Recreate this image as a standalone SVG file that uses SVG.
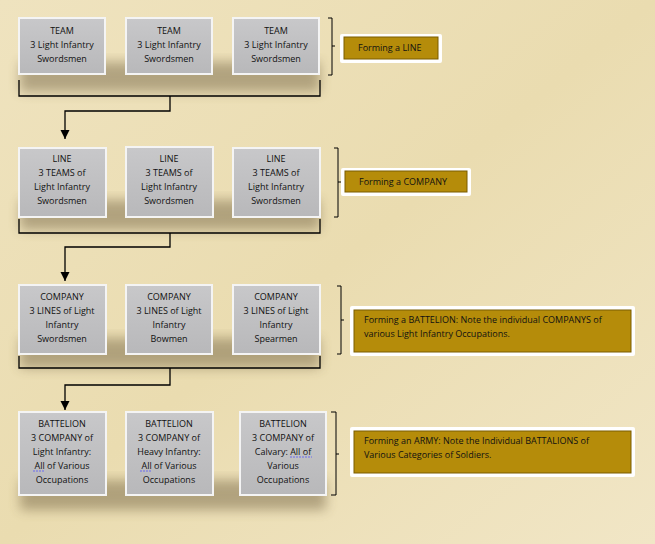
<svg xmlns="http://www.w3.org/2000/svg" width="655" height="544" viewBox="0 0 655 544">
<defs>
<linearGradient id="bg" x1="0" y1="0" x2="1" y2="1"><stop offset="0" stop-color="#efe3bf"/><stop offset="0.5" stop-color="#eadcb0"/><stop offset="1" stop-color="#f1e6c6"/></linearGradient>
<linearGradient id="bx" x1="0" y1="0" x2="0" y2="1"><stop offset="0" stop-color="#c8c8ca"/><stop offset="1" stop-color="#b8b8ba"/></linearGradient>
<filter id="sh" x="-30%" y="-30%" width="160%" height="180%"><feGaussianBlur stdDeviation="6"/></filter>
<marker id="ah" viewBox="0 0 10 10" refX="10" refY="5" markerWidth="7" markerHeight="7" orient="auto"><path d="M0,0 L10,5 L0,10 Z" fill="#000"/></marker>
<style>
.box{fill:url(#bx);stroke:#f4f4f4;stroke-width:2}
.shd{fill:#6b5a3a;opacity:0.45;filter:url(#sh)}
text{font-family:"Open Sans","Liberation Sans",sans-serif;font-size:9px;fill:#111;text-anchor:middle}
.lab{fill:#b58c0a;stroke:#7a5c00;stroke-width:1}
.labo{fill:#fff}
.lt{text-anchor:start;font-size:9px}
.con{fill:none;stroke:#000;stroke-width:1.3}
.br{fill:none;stroke:#000;stroke-width:1}
.ul{stroke:#6a6af0;stroke-width:1;stroke-dasharray:2 1}
</style>
</defs>
<rect width="655" height="544" fill="url(#bg)"/>
<g id="shadows">
<rect class="shd" x="20" y="62" width="300" height="30"/>
<rect class="shd" x="20" y="200" width="300" height="30"/>
<rect class="shd" x="20" y="338" width="300" height="30"/>
<rect class="shd" x="20" y="480" width="306" height="30"/>
</g>
<g id="connectors">
<path class="con" d="M19,80 V96 H320 V80 M170,96 V111 H65 V139" marker-end="url(#ah)"/>
<path class="con" d="M19,219 V233 H320 V219 M170,233 V247 H65 V281" marker-end="url(#ah)"/>
<path class="con" d="M19,356 V368 H320 V356 M170,368 V385 H65 V410" marker-end="url(#ah)"/>
</g>
<g id="r1a"><rect class="box" x="19" y="18" width="86" height="56"/><text x="62" y="34">TEAM</text><text x="62" y="48">3 Light Infantry</text><text x="62" y="62">Swordsmen</text></g>
<g id="r1b"><rect class="box" x="126" y="18" width="86" height="56"/><text x="169" y="34">TEAM</text><text x="169" y="48">3 Light Infantry</text><text x="169" y="62">Swordsmen</text></g>
<g id="r1c"><rect class="box" x="233" y="18" width="86" height="56"/><text x="276" y="34">TEAM</text><text x="276" y="48">3 Light Infantry</text><text x="276" y="62">Swordsmen</text></g>
<g id="r2a"><rect class="box" x="19" y="148" width="87" height="69"/><text x="62" y="162">LINE</text><text x="62" y="176">3 TEAMS of</text><text x="62" y="190">Light Infantry</text><text x="62" y="204">Swordsmen</text></g>
<g id="r2b"><rect class="box" x="126" y="147" width="87" height="70"/><text x="169" y="162">LINE</text><text x="169" y="176">3 TEAMS of</text><text x="169" y="190">Light Infantry</text><text x="169" y="204">Swordsmen</text></g>
<g id="r2c"><rect class="box" x="233" y="148" width="87" height="69"/><text x="276" y="162">LINE</text><text x="276" y="176">3 TEAMS of</text><text x="276" y="190">Light Infantry</text><text x="276" y="204">Swordsmen</text></g>
<g id="r3a"><rect class="box" x="19" y="285" width="87" height="69"/><text x="62" y="300">COMPANY</text><text x="62" y="314">3 LINES of Light</text><text x="62" y="328">Infantry</text><text x="62" y="342">Swordsmen</text></g>
<g id="r3b"><rect class="box" x="126" y="285" width="86" height="69"/><text x="169" y="300">COMPANY</text><text x="169" y="314">3 LINES of Light</text><text x="169" y="328">Infantry</text><text x="169" y="342">Bowmen</text></g>
<g id="r3c"><rect class="box" x="233" y="285" width="87" height="69"/><text x="276" y="300">COMPANY</text><text x="276" y="314">3 LINES of Light</text><text x="276" y="328">Infantry</text><text x="276" y="342">Spearmen</text></g>
<g id="r4a"><rect class="box" x="19" y="412" width="87" height="83"/><text x="62" y="427">BATTELION</text><text x="62" y="441">3 COMPANY of</text><text x="62" y="455">Light Infantry:</text><text x="62" y="469">All of Various</text><text x="62" y="483">Occupations</text><line class="ul" x1="33" y1="471" x2="45" y2="471"/></g>
<g id="r4b"><rect class="box" x="126" y="412" width="87" height="83"/><text x="169" y="427">BATTELION</text><text x="169" y="441">3 COMPANY of</text><text x="169" y="455">Heavy Infantry:</text><text x="169" y="469">All of Various</text><text x="169" y="483">Occupations</text><line class="ul" x1="140" y1="471" x2="152" y2="471"/></g>
<g id="r4c"><rect class="box" x="240" y="412" width="86" height="83"/><text x="283" y="427">BATTELION</text><text x="283" y="441">3 COMPANY of</text><text x="283" y="455">Calvary: All of</text><text x="283" y="469">Various</text><text x="283" y="483">Occupations</text><line class="ul" x1="290" y1="457" x2="312" y2="457"/></g>
<g id="braces">
<path class="br" d="M328,18 H332 V75 H328 M332,46 H335"/>
<path class="br" d="M334,148 H338 V217 H334 M338,182 H341"/>
<path class="br" d="M337,286 H341 V354 H337 M341,320 H344"/>
<path class="br" d="M331,412 H336 V495 H331 M336,454 H339"/>
</g>
<g id="l1"><rect class="labo" x="340" y="34" width="102" height="29" rx="2"/><rect class="lab" x="344" y="37" width="94" height="22"/><text class="lt" x="358" y="51">Forming a LINE</text></g>
<g id="l2"><rect class="labo" x="341" y="168" width="130" height="28" rx="2"/><rect class="lab" x="345" y="171" width="122" height="21"/><text class="lt" x="359" y="185">Forming a COMPANY</text></g>
<g id="l3"><rect class="labo" x="350" y="306" width="285" height="50" rx="2"/><rect class="lab" x="354" y="310" width="277" height="42"/><text class="lt" x="364" y="323">Forming a BATTELION: Note the individual COMPANYS of</text><text class="lt" x="364" y="337">various Light Infantry Occupations.</text></g>
<g id="l4"><rect class="labo" x="350" y="427" width="285" height="50" rx="2"/><rect class="lab" x="354" y="431" width="277" height="42"/><text class="lt" x="364" y="444">Forming an ARMY: Note the Individual BATTALIONS of</text><text class="lt" x="364" y="458">Various Categories of Soldiers.</text></g>
</svg>
